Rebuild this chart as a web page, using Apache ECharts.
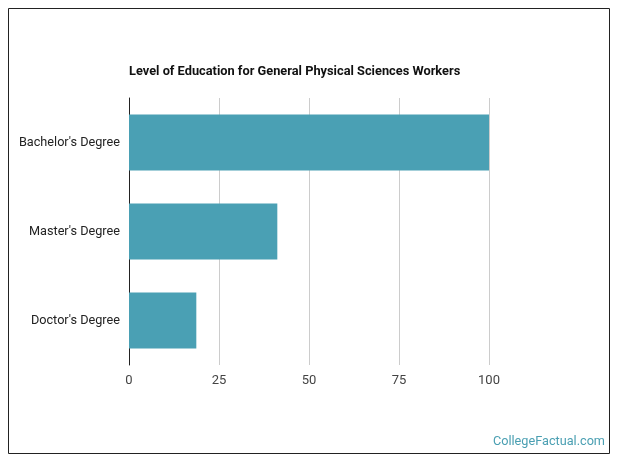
<!DOCTYPE html>
<html>
<head>
<meta charset="utf-8">
<script src="https://cdn.jsdelivr.net/npm/echarts@6/dist/echarts.min.js"></script>
<style>
html,body{margin:0;padding:0;background:#fff;}
#c{width:620px;height:465px;}
</style>
</head>
<body>
<div id="c"></div>
<script>
var categories = ["Bachelor's Degree", "Master's Degree", "Doctor's Degree"];
var values = [100, 41.2, 18.7];
var xTicks = [0, 25, 50, 75, 100];

var chart = echarts.init(document.getElementById('c'));
chart.setOption({
  animation: false,
  backgroundColor: '#fff',
  title: {
    text: 'Level of Education for General Physical Sciences Workers',
    left: 129, top: 65, padding: 0,
    textStyle: {fontFamily: 'Roboto', fontSize: 12.8, fontWeight: 'bold', color: '#111'}
  },
  graphic: [
    {type: 'rect', shape: {x: 8.5, y: 8.5, width: 601, height: 445}, style: {fill: 'none', stroke: '#222', lineWidth: 1}, z: -1},
    {type: 'text', right: 15, top: 435, style: {text: 'CollegeFactual.com', font: '12.7px Roboto', fill: '#4a9fb2'}}
  ],
  grid: {left: 129, right: 131, top: 98, bottom: 100},
  xAxis: {
    type: 'value', min: xTicks[0], max: xTicks[xTicks.length - 1], interval: 25,
    axisLine: {show: false}, axisTick: {show: false},
    splitLine: {lineStyle: {color: '#cccccc', width: 1}},
    axisLabel: {fontFamily: 'Roboto', fontSize: 13, color: '#444', margin: 9}
  },
  yAxis: {
    type: 'category', data: categories, inverse: true,
    axisLine: {show: true, lineStyle: {color: '#222', width: 1}},
    axisTick: {show: false},
    axisLabel: {fontFamily: 'Roboto', fontSize: 12.7, color: '#222', margin: 9}
  },
  series: [{
    type: 'bar', data: values, barWidth: 56,
    itemStyle: {color: '#4aa0b4'}
  }]
});
</script>
</body>
</html>
